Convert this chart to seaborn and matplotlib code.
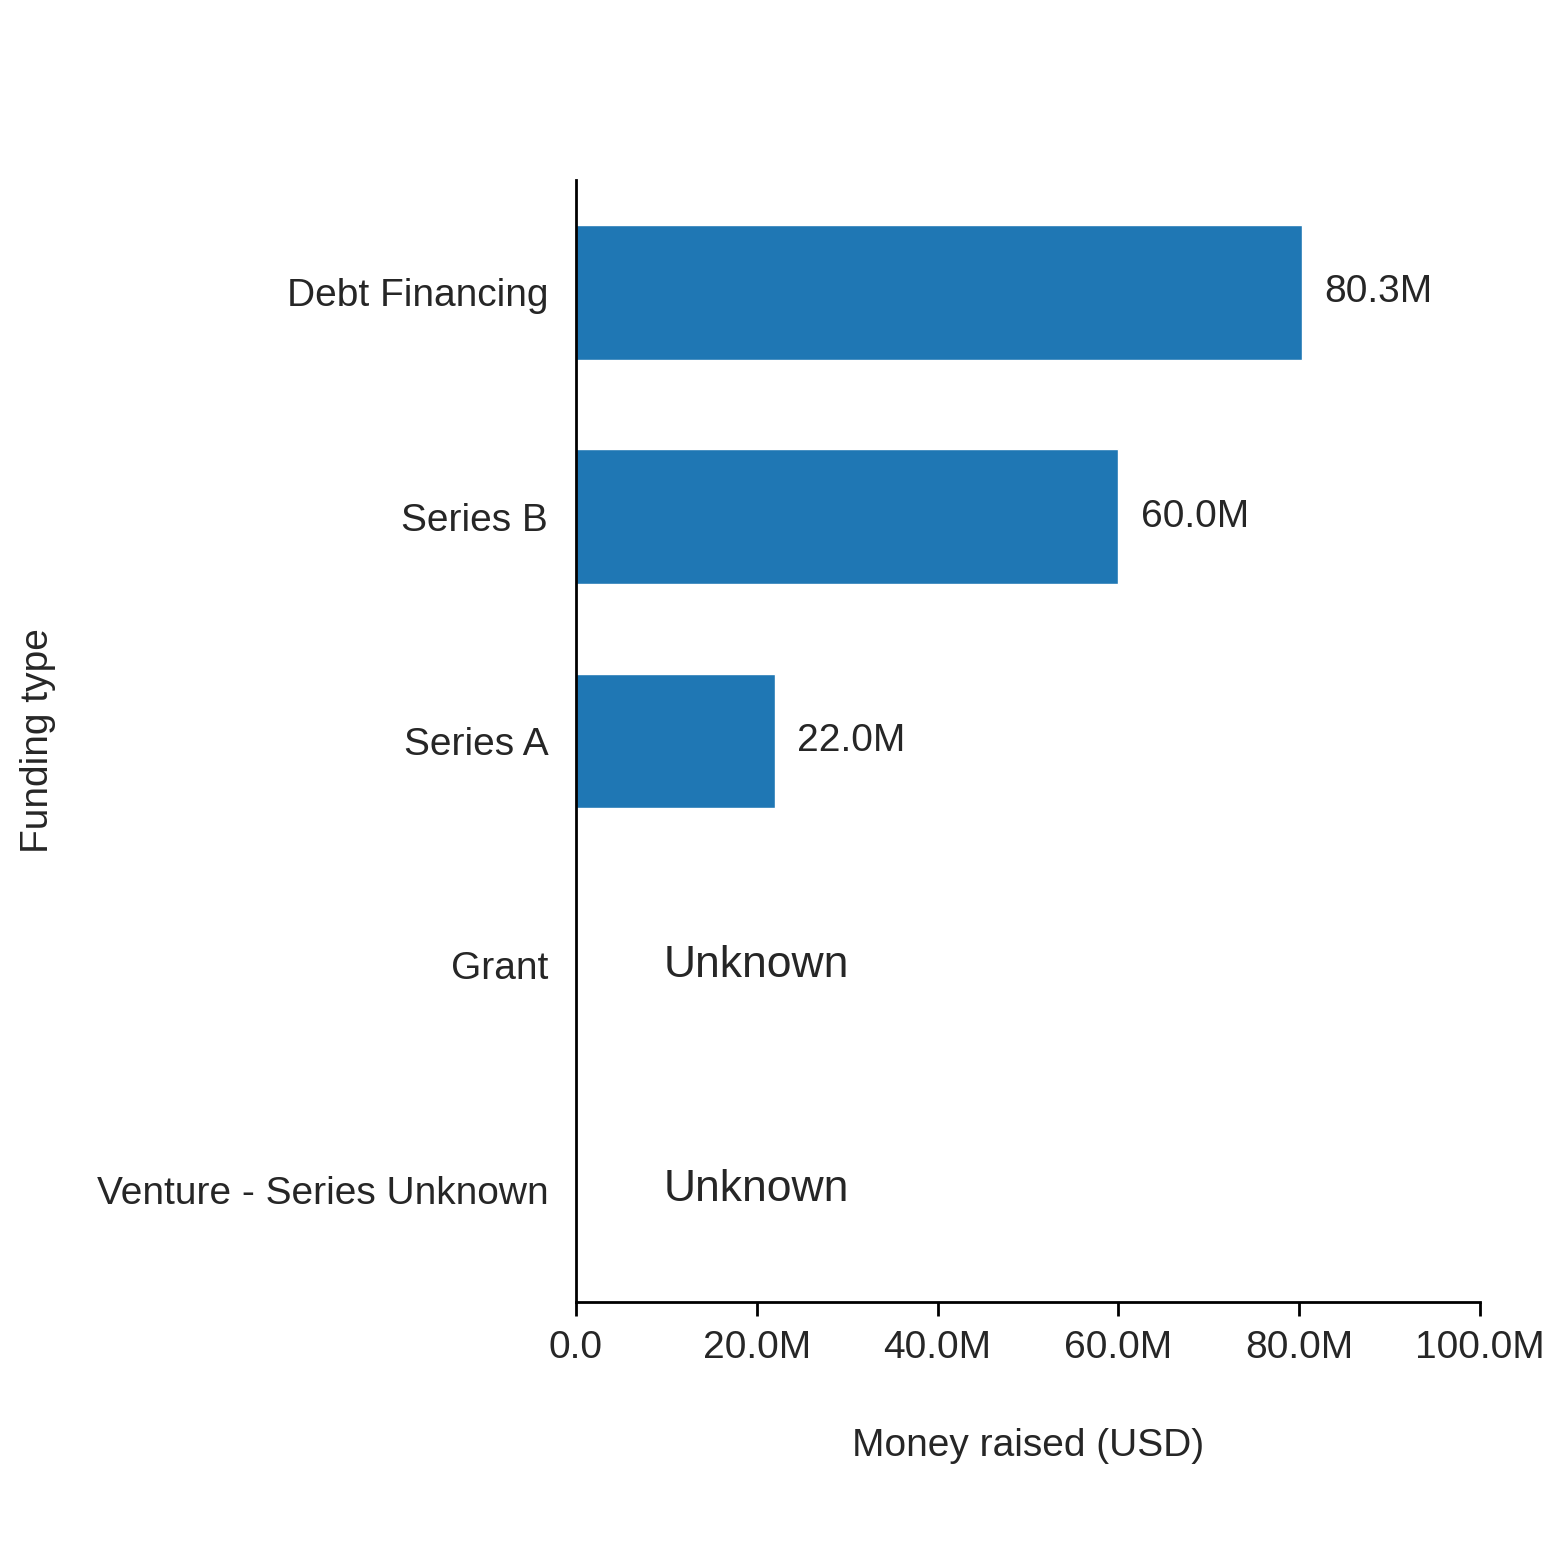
import matplotlib
matplotlib.use("Agg")
import matplotlib.pyplot as plt
import seaborn as sns
import pandas as pd

categories = ["Debt Financing", "Series B", "Series A", "Grant", "Venture - Series Unknown"]
values = [80.3, 60.0, 22.0, 0.0, 0.0]
labels = ["80.3M", "60.0M", "22.0M", "Unknown", "Unknown"]
xticks = [0, 20, 40, 60, 80, 100]
xticklabels = ["0.0", "20.0M", "40.0M", "60.0M", "80.0M", "100.0M"]

sns.set_style("white")
plt.rcParams['font.family'] = ['Liberation Sans', 'DejaVu Sans']

df = pd.DataFrame({"cat": categories, "val": values})
fig = plt.figure(figsize=(15.6, 15.64), dpi=100)
ax = fig.add_axes([576/1560, 1-1302/1564, 904/1560, 1122/1564])
sns.barplot(data=df, x="val", y="cat", color="#1f77b4", saturation=1, width=0.6, ax=ax)
ax.set_xlim(0, 100)
ax.set_ylim(4.5, -0.5)
for i, (v, l) in enumerate(zip(values, labels)):
    if v > 0:
        ax.text(v + 2.5, i, l, va="center", ha="left", fontsize=28)
    else:
        ax.text(20, i, l, va="center", ha="center", fontsize=32)
ax.set_xticks(xticks)
ax.set_xticklabels(xticklabels, fontsize=28)
ax.tick_params(axis="y", labelsize=28, length=0, pad=20)
ax.tick_params(axis="x", direction="out", length=10, width=2, color="black", pad=10, bottom=True)
for s in ["top", "right"]:
    ax.spines[s].set_visible(False)
for s in ["left", "bottom"]:
    ax.spines[s].set_color("black")
    ax.spines[s].set_linewidth(2)
ax.set_xlabel("Money raised (USD)", fontsize=28, labelpad=45)
ax.set_ylabel("Funding type", fontsize=28)
ax.yaxis.set_label_coords(-520/904, 0.5)
fig.savefig("out.png", dpi=100)
